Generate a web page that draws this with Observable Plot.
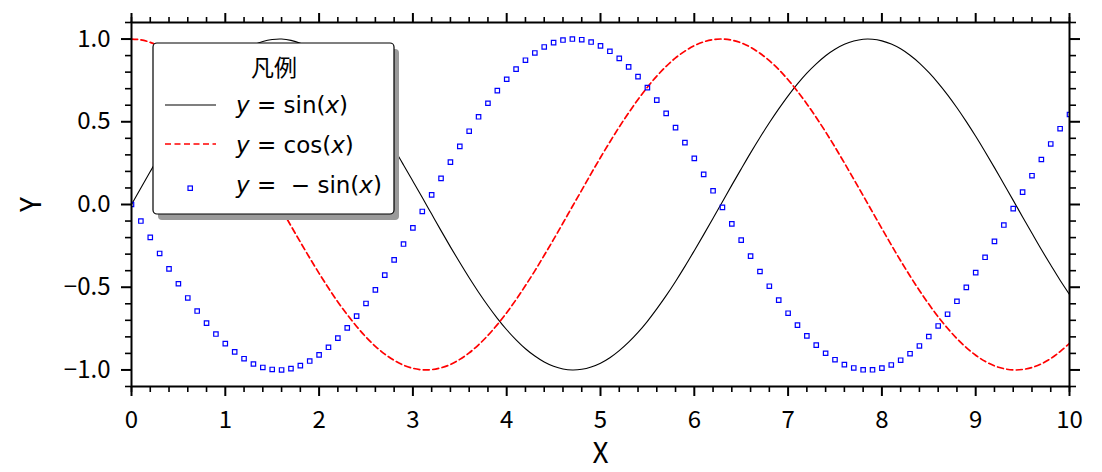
<!DOCTYPE html>
<html><head><meta charset="utf-8">
<script src="https://cdn.jsdelivr.net/npm/d3@7"></script>
<script src="https://cdn.jsdelivr.net/npm/@observablehq/plot@0.6"></script>
<style>body{margin:0;background:#fff}</style>
</head><body><div id="chart"></div>
<script>
const xValues = [0,0.1,0.2,0.3,0.4,0.5,0.6,0.7,0.8,0.9,1,1.1,1.2,1.3,1.4,1.5,1.6,1.7,1.8,1.9,2,2.1,2.2,2.3,2.4,2.5,2.6,2.7,2.8,2.9,3,3.1,3.2,3.3,3.4,3.5,3.6,3.7,3.8,3.9,4,4.1,4.2,4.3,4.4,4.5,4.6,4.7,4.8,4.9,5,5.1,5.2,5.3,5.4,5.5,5.6,5.7,5.8,5.9,6,6.1,6.2,6.3,6.4,6.5,6.6,6.7,6.8,6.9,7,7.1,7.2,7.3,7.4,7.5,7.6,7.7,7.8,7.9,8,8.1,8.2,8.3,8.4,8.5,8.6,8.7,8.8,8.9,9,9.1,9.2,9.3,9.4,9.5,9.6,9.7,9.8,9.9,10];
const sinValues = [0.000,0.100,0.199,0.296,0.389,0.479,0.565,0.644,0.717,0.783,0.841,0.891,0.932,0.964,0.985,0.997,1.000,0.992,0.974,0.946,0.909,0.863,0.808,0.746,0.675,0.598,0.516,0.427,0.335,0.239,0.141,0.042,-0.058,-0.158,-0.256,-0.351,-0.443,-0.530,-0.612,-0.688,-0.757,-0.818,-0.872,-0.916,-0.952,-0.978,-0.994,-1.000,-0.996,-0.982,-0.959,-0.926,-0.883,-0.832,-0.773,-0.706,-0.631,-0.551,-0.465,-0.374,-0.279,-0.182,-0.083,0.017,0.117,0.215,0.312,0.405,0.494,0.578,0.657,0.729,0.794,0.850,0.899,0.938,0.968,0.988,0.999,0.999,0.989,0.970,0.941,0.902,0.855,0.798,0.734,0.663,0.585,0.501,0.412,0.319,0.223,0.124,0.025,-0.075,-0.174,-0.272,-0.366,-0.458,-0.544];
const cosValues = [1.000,0.995,0.980,0.955,0.921,0.878,0.825,0.765,0.697,0.622,0.540,0.454,0.362,0.267,0.170,0.071,-0.029,-0.129,-0.227,-0.323,-0.416,-0.505,-0.589,-0.666,-0.737,-0.801,-0.857,-0.904,-0.942,-0.971,-0.990,-0.999,-0.998,-0.987,-0.967,-0.936,-0.897,-0.848,-0.791,-0.726,-0.654,-0.575,-0.490,-0.401,-0.307,-0.211,-0.112,-0.012,0.087,0.187,0.284,0.378,0.469,0.554,0.635,0.709,0.776,0.835,0.886,0.927,0.960,0.983,0.997,1.000,0.993,0.977,0.950,0.914,0.869,0.816,0.754,0.684,0.608,0.526,0.439,0.347,0.251,0.153,0.054,-0.046,-0.146,-0.244,-0.340,-0.432,-0.520,-0.602,-0.679,-0.748,-0.811,-0.865,-0.911,-0.948,-0.975,-0.992,-1.000,-0.997,-0.985,-0.963,-0.931,-0.889,-0.839];
const negSinValues = [0.000,-0.100,-0.199,-0.296,-0.389,-0.479,-0.565,-0.644,-0.717,-0.783,-0.841,-0.891,-0.932,-0.964,-0.985,-0.997,-1.000,-0.992,-0.974,-0.946,-0.909,-0.863,-0.808,-0.746,-0.675,-0.598,-0.516,-0.427,-0.335,-0.239,-0.141,-0.042,0.058,0.158,0.256,0.351,0.443,0.530,0.612,0.688,0.757,0.818,0.872,0.916,0.952,0.978,0.994,1.000,0.996,0.982,0.959,0.926,0.883,0.832,0.773,0.706,0.631,0.551,0.465,0.374,0.279,0.182,0.083,-0.017,-0.117,-0.215,-0.312,-0.405,-0.494,-0.578,-0.657,-0.729,-0.794,-0.850,-0.899,-0.938,-0.968,-0.988,-0.999,-0.999,-0.989,-0.970,-0.941,-0.902,-0.855,-0.798,-0.734,-0.663,-0.585,-0.501,-0.412,-0.319,-0.223,-0.124,-0.025,0.075,0.174,0.272,0.366,0.458,0.544];

const xMajorTicks = [0,1,2,3,4,5,6,7,8,9,10];
const xMinorTicks = [0,0.2,0.4,0.6,0.8,1.2,1.4,1.6,1.8,2.2,2.4,2.6,2.8,3.2,3.4,3.6,3.8,4.2,4.4,4.6,4.8,5.2,5.4,5.6,5.8,6.2,6.4,6.6,6.8,7.2,7.4,7.6,7.8,8.2,8.4,8.6,8.8,9.2,9.4,9.6,9.8,10];
const yMajorTicks = [-1,-0.5,0,0.5,1];
const yMinorTicks = [-1.1,-0.9,-0.8,-0.7,-0.6,-0.4,-0.3,-0.2,-0.1,0.1,0.2,0.3,0.4,0.6,0.7,0.8,0.9,1.1];
const xLabel = "X";
const yLabel = "Y";
const legendTitle = "凡例";

const sinData = xValues.map((x, i) => ({x, y: sinValues[i]}));
const cosData = xValues.map((x, i) => ({x, y: cosValues[i]}));
const negSinData = xValues.map((x, i) => ({x, y: negSinValues[i]}));

const FONT = "'Noto Sans CJK JP', 'Noto Sans', sans-serif";
const fmtY = d => d.toFixed(1).replace("-", "\u2212");
const blank = () => "";

const chart = Plot.plot({
  width: 1102, height: 472,
  marginLeft: 131, marginRight: 33, marginTop: 22, marginBottom: 86,
  style: {fontFamily: FONT, fontSize: "23px", background: "#fff", color: "#000"},
  x: {domain: [0, 10]},
  y: {domain: [-1.1, 1.1]},
  marks: [
    Plot.line(sinData, {x: "x", y: "y", stroke: "black", strokeWidth: 1.1, curve: "catmull-rom", clip: true}),
    Plot.line(cosData, {x: "x", y: "y", stroke: "red", strokeWidth: 1.7, strokeDasharray: "6,3.5", curve: "catmull-rom", clip: true}),
    Plot.dot(negSinData, {x: "x", y: "y", symbol: "square", r: 2.5, stroke: "blue", strokeWidth: 1.2, fill: "none", clip: true}),
    Plot.frame({stroke: "black", strokeWidth: 2}),
    Plot.axisX({anchor: "bottom", ticks: xMinorTicks, tickSize: 6, tickFormat: blank, label: null, strokeWidth: 1.6}),
    Plot.axisX({anchor: "bottom", ticks: xMajorTicks, tickSize: 10, tickPadding: 14, tickFormat: d => String(d), label: null, strokeWidth: 2, fontSize: 24, fontFamily: FONT}),
    Plot.axisX({anchor: "top", ticks: xMinorTicks, tickSize: 6, tickFormat: blank, label: null, strokeWidth: 1.6}),
    Plot.axisX({anchor: "top", ticks: xMajorTicks, tickSize: 10, tickFormat: blank, label: null, strokeWidth: 2}),
    Plot.axisY({anchor: "left", ticks: yMinorTicks, tickSize: 6, tickFormat: blank, label: null, strokeWidth: 1.6}),
    Plot.axisY({anchor: "left", ticks: yMajorTicks, tickSize: 10, tickPadding: 11, tickFormat: fmtY, label: null, strokeWidth: 2, fontSize: 24, fontFamily: FONT}),
    Plot.axisY({anchor: "right", ticks: yMinorTicks, tickSize: 6, tickFormat: blank, label: null, strokeWidth: 1.6}),
    Plot.axisY({anchor: "right", ticks: yMajorTicks, tickSize: 10, tickFormat: blank, label: null, strokeWidth: 2}),
    Plot.text([xLabel], {frameAnchor: "bottom", dy: 68, fontSize: 28, lineAnchor: "middle", textAnchor: "middle", fontFamily: FONT}),
    Plot.text([yLabel], {frameAnchor: "left", dx: -99, rotate: -90, fontSize: 28, lineAnchor: "middle", textAnchor: "middle", fontFamily: FONT})
  ]
});
document.getElementById("chart").appendChild(chart);

// Legend
const svg = d3.select(chart);
const lg = svg.append("g");
lg.append("rect").attr("x", 158).attr("y", 49).attr("width", 241).attr("height", 171).attr("rx", 4)
  .attr("fill", "#9a9a9a");
lg.append("rect").attr("x", 153).attr("y", 43).attr("width", 241).attr("height", 171).attr("rx", 4)
  .attr("fill", "#fff").attr("stroke", "#000").attr("stroke-width", 1.2);
lg.append("text").attr("x", 274).attr("y", 76).attr("text-anchor", "middle")
  .attr("font-family", FONT).attr("font-size", 23).attr("fill", "#000")
  .text(legendTitle);
lg.append("line").attr("x1", 165).attr("x2", 216).attr("y1", 105).attr("y2", 105)
  .attr("stroke", "black").attr("stroke-width", 1.1);
lg.append("line").attr("x1", 165).attr("x2", 216).attr("y1", 144).attr("y2", 144)
  .attr("stroke", "red").attr("stroke-width", 1.7).attr("stroke-dasharray", "6,3.5");
lg.append("rect").attr("x", 188).attr("y", 186).attr("width", 4.4).attr("height", 4.4)
  .attr("fill", "none").attr("stroke", "blue").attr("stroke-width", 1.2);

function mathLabel(y, parts) {
  const t = lg.append("text").attr("x", 236).attr("y", y).attr("text-anchor", "start")
    .attr("font-family", "'DejaVu Sans', sans-serif").attr("font-size", 23).attr("fill", "#000")
    .attr("xml:space", "preserve");
  parts.forEach(([s, it]) => {
    const ts = t.append("tspan").text(s);
    if (it) ts.attr("font-style", "italic");
  });
}
mathLabel(113, [["y", true], [" = sin(", false], ["x", true], [")", false]]);
mathLabel(153, [["y", true], [" = cos(", false], ["x", true], [")", false]]);
mathLabel(193, [["y", true], [" =  \u2212 sin(", false], ["x", true], [")", false]]);
</script>
</body></html>
